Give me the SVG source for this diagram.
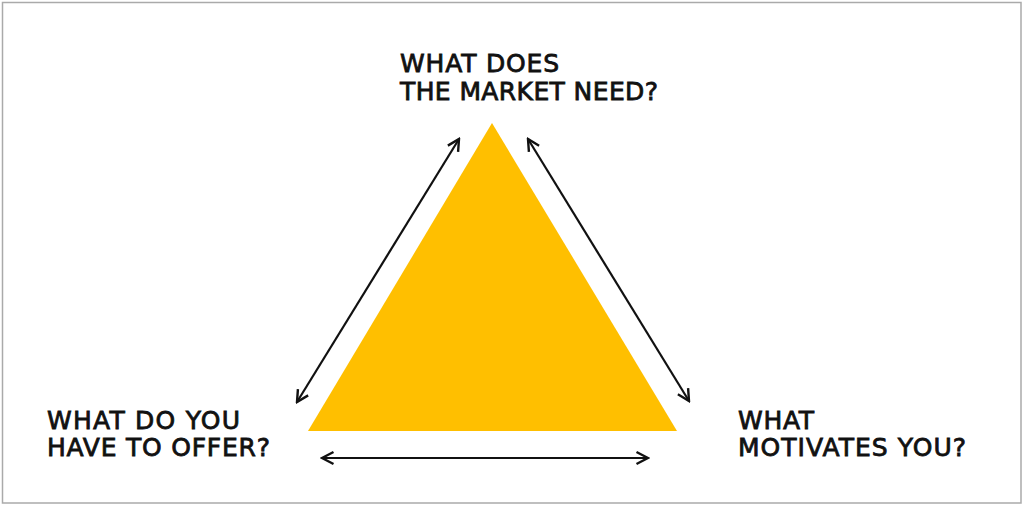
<svg xmlns="http://www.w3.org/2000/svg" width="1024" height="508" viewBox="0 0 1024 508">
<defs>
<style>
.lbl{font-family:"DejaVu Sans","Liberation Sans",sans-serif;font-weight:400;font-size:25px;fill:#111;stroke:#111;stroke-width:0.8}
.con{stroke:#111;stroke-width:2.2;fill:none;marker-start:url(#ah);marker-end:url(#ah)}
</style>
<marker id="ah" viewBox="0 0 16 16" refX="14" refY="8" markerWidth="16" markerHeight="16" markerUnits="userSpaceOnUse" orient="auto-start-reverse">
<path d="M2.5,2 L14,8 L2.5,14" fill="none" stroke="#111" stroke-width="2.4"/>
</marker>
</defs>
<rect x="0" y="0" width="1024" height="508" fill="#fff"/>
<rect x="2.5" y="2.5" width="1018.5" height="500.5" fill="none" stroke="#aaa" stroke-width="1.5"/>
<g id="triangle">
<polygon points="492,123 308,431 677,431" fill="#FFBF00"/>
</g>
<g id="connectors">
<line class="con" x1="297" y1="402" x2="459" y2="139"/>
<line class="con" x1="528" y1="139" x2="689" y2="401"/>
<line class="con" x1="322" y1="458" x2="648" y2="458"/>
</g>
<g id="node-market">
<text class="lbl" x="400" y="72" textLength="159" lengthAdjust="spacing">WHAT DOES</text>
<text class="lbl" x="400" y="100" textLength="258" lengthAdjust="spacing">THE MARKET NEED?</text>
</g>
<g id="node-offer">
<text class="lbl" x="47" y="429" textLength="193" lengthAdjust="spacing">WHAT DO YOU</text>
<text class="lbl" x="47" y="456" textLength="223" lengthAdjust="spacing">HAVE TO OFFER?</text>
</g>
<g id="node-motivates">
<text class="lbl" x="738" y="429" textLength="76" lengthAdjust="spacing">WHAT</text>
<text class="lbl" x="738" y="456" textLength="228" lengthAdjust="spacing">MOTIVATES YOU?</text>
</g>
</svg>
